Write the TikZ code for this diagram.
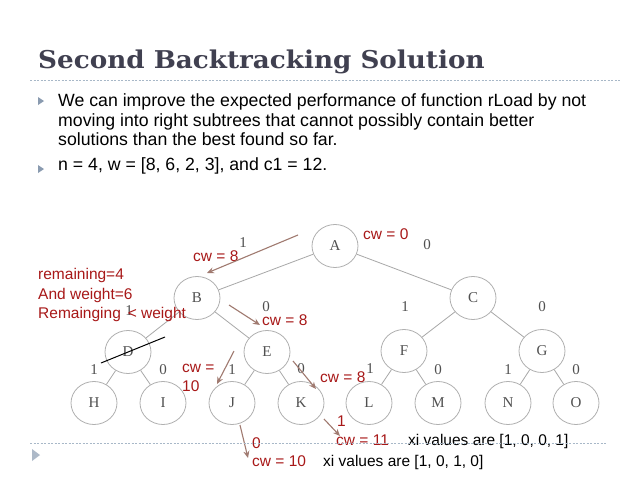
\documentclass[tikz,border=0pt]{standalone}
\usepackage{fontspec}
\setmainfont{Liberation Sans}
\newfontfamily\titlefont{DejaVu Serif}
\newfontfamily\treefont{Liberation Serif}
\usetikzlibrary{shapes.geometric,arrows.meta}
\definecolor{titlecol}{HTML}{404050}
\definecolor{bulletcol}{HTML}{8A9BB0}
\definecolor{dashcol}{HTML}{A8B8C8}
\definecolor{redtxt}{HTML}{A81818}
\definecolor{arrowcol}{HTML}{A07A70}
\definecolor{nodeborder}{HTML}{B0B0B0}
\definecolor{edgecol}{HTML}{A8A8A8}
\definecolor{lettercol}{HTML}{505050}
\tikzset{
  tnode/.style={ellipse, draw=nodeborder, line width=0.8pt, minimum width=46pt, minimum height=43pt, inner sep=0pt, font=\treefont\fontsize{15}{15}\selectfont, text=lettercol},
  tedge/.style={draw=edgecol, line width=0.8pt},
  elabel/.style={inner sep=0pt, font=\treefont\fontsize{15}{15}\selectfont, text=lettercol},
  redlabel/.style={anchor=base west, inner sep=0pt, font=\fontsize{15.5}{15.5}\selectfont, text=redtxt},
  blacklabel/.style={anchor=base west, inner sep=0pt, font=\fontsize{15.5}{15.5}\selectfont, text=black},
  bodytext/.style={anchor=base west, inner sep=0pt, font=\fontsize{17.7}{17.7}\selectfont, text=black},
  redarrow/.style={draw=arrowcol, line width=1.1pt, -{Stealth[length=7pt,width=6pt]}},
  sepline/.style={draw=dashcol, line width=0.7pt, dash pattern=on 2pt off 1.5pt},
}
\begin{document}
\begin{tikzpicture}[x=1pt,y=-1pt]
\useasboundingbox[fill=white] (0,0) rectangle (638,479);
% title
\node[anchor=base west, inner sep=0pt, text=titlecol, font=\titlefont\bfseries\fontsize{24.5}{24.5}\selectfont, xscale=1.07] (title) at (38,68.5) {Second Backtracking Solution};
\coordinate (s1a) at (30,80); \coordinate (s1b) at (620,80);
\draw[sepline] (s1a) -- (s1b);
% bullets
\fill[bulletcol] (38,97) -- (44,101) -- (38,105) -- cycle;
\fill[bulletcol] (38,165) -- (44,169) -- (38,173) -- cycle;
\node[bodytext] (t1) at (58,106) {We can improve the expected performance of function rLoad by not};
\node[bodytext] (t2) at (58,126) {moving into right subtrees that cannot possibly contain better};
\node[bodytext] (t3) at (58,145) {solutions than the best found so far.};
\node[bodytext] (t4) at (58,170) {n = 4, w = [8, 6, 2, 3], and c1 = 12.};
% tree nodes
\node[tnode] (A) at (335,246) {A};
\node[tnode] (B) at (197,298) {B};
\node[tnode] (C) at (473,298) {C};
\node[tnode] (D) at (128,352) {D};
\node[tnode] (E) at (267,352) {E};
\node[tnode] (F) at (404,351) {F};
\node[tnode] (G) at (542,351) {G};
\node[tnode] (H) at (94,403) {H};
\node[tnode] (I) at (163,403) {I};
\node[tnode] (J) at (232,403) {J};
\node[tnode] (K) at (301,403) {K};
\node[tnode] (L) at (369,403) {L};
\node[tnode] (M) at (438,403) {M};
\node[tnode] (N) at (508,403) {N};
\node[tnode] (O) at (576,403) {O};
\draw[tedge] (A) -- (B); \draw[tedge] (A) -- (C);
\draw[tedge] (B) -- (D); \draw[tedge] (B) -- (E);
\draw[tedge] (C) -- (F); \draw[tedge] (C) -- (G);
\draw[tedge] (D) -- (H); \draw[tedge] (D) -- (I);
\draw[tedge] (E) -- (J); \draw[tedge] (E) -- (K);
\draw[tedge] (F) -- (L); \draw[tedge] (F) -- (M);
\draw[tedge] (G) -- (N); \draw[tedge] (G) -- (O);
% edge labels
\node[elabel] (lab) at (243,243) {1};
\node[elabel] (lac) at (427,245) {0};
\node[elabel] (lbd) at (129,311) {1};
\node[elabel] (lbe) at (266,307) {0};
\node[elabel] (lcf) at (405,307) {1};
\node[elabel] (lcg) at (542,307) {0};
\node[elabel] (ldh) at (94,370) {1};
\node[elabel] (ldi) at (163,370) {0};
\node[elabel] (lej) at (232,370) {1};
\node[elabel] (lek) at (301,369) {0};
\node[elabel] (lfl) at (370,369) {1};
\node[elabel] (lfm) at (438,370) {0};
\node[elabel] (lgn) at (508,370) {1};
\node[elabel] (lgo) at (576,370) {0};
% strike through D
\coordinate (x1) at (101,363); \coordinate (x2) at (165,337);
\draw[black, line width=1pt] (x1) -- (x2);
% red annotations
\node[redlabel] (cw0) at (363,239) {cw = 0};
\node[redlabel] (cw8a) at (193,261) {cw = 8};
\node[redlabel] (rem1) at (38,279) {remaining=4};
\node[redlabel] (rem2) at (38,299) {And weight=6};
\node[redlabel] (rem3) at (38,318) {Remainging \,< weight};
\node[redlabel] (cw8b) at (262,325) {cw = 8};
\node[redlabel] (cw10a) at (182,372) {cw =};
\node[redlabel] (cw10b) at (182,391) {10};
\node[redlabel] (cw8c) at (320,382) {cw = 8};
\node[redlabel] (one) at (337,426) {1};
\node[redlabel] (cw11) at (336,445) {cw = 11};
\node[blacklabel] (xi1) at (408,445) {xi values are [1, 0, 0, 1]};
\node[redlabel] (zero) at (252,448) {0};
\node[redlabel] (cw10c) at (252,466) {cw = 10};
\node[blacklabel] (xi2) at (323,466) {xi values are [1, 0, 1, 0]};
% red arrows
\coordinate (a1s) at (298,235); \coordinate (a1e) at (207,273);
\coordinate (a2s) at (229,305); \coordinate (a2e) at (260,325);
\coordinate (a3s) at (234,351); \coordinate (a3e) at (217,384);
\coordinate (a4s) at (293,361); \coordinate (a4e) at (316,389);
\coordinate (a5s) at (324,419); \coordinate (a5e) at (340,436);
\coordinate (a6s) at (240,425); \coordinate (a6e) at (248,458);
\draw[redarrow] (a1s) -- (a1e);
\draw[redarrow] (a2s) -- (a2e);
\draw[redarrow] (a3s) -- (a3e);
\draw[redarrow] (a4s) -- (a4e);
\draw[redarrow] (a5s) -- (a5e);
\draw[redarrow] (a6s) -- (a6e);
% bottom separator and marker
\coordinate (s2a) at (30,443); \coordinate (s2b) at (607,443);
\draw[sepline] (s2a) -- (s2b);
\fill[bulletcol!70] (32,449) -- (40,455) -- (32,461) -- cycle;
\end{tikzpicture}
\end{document}
